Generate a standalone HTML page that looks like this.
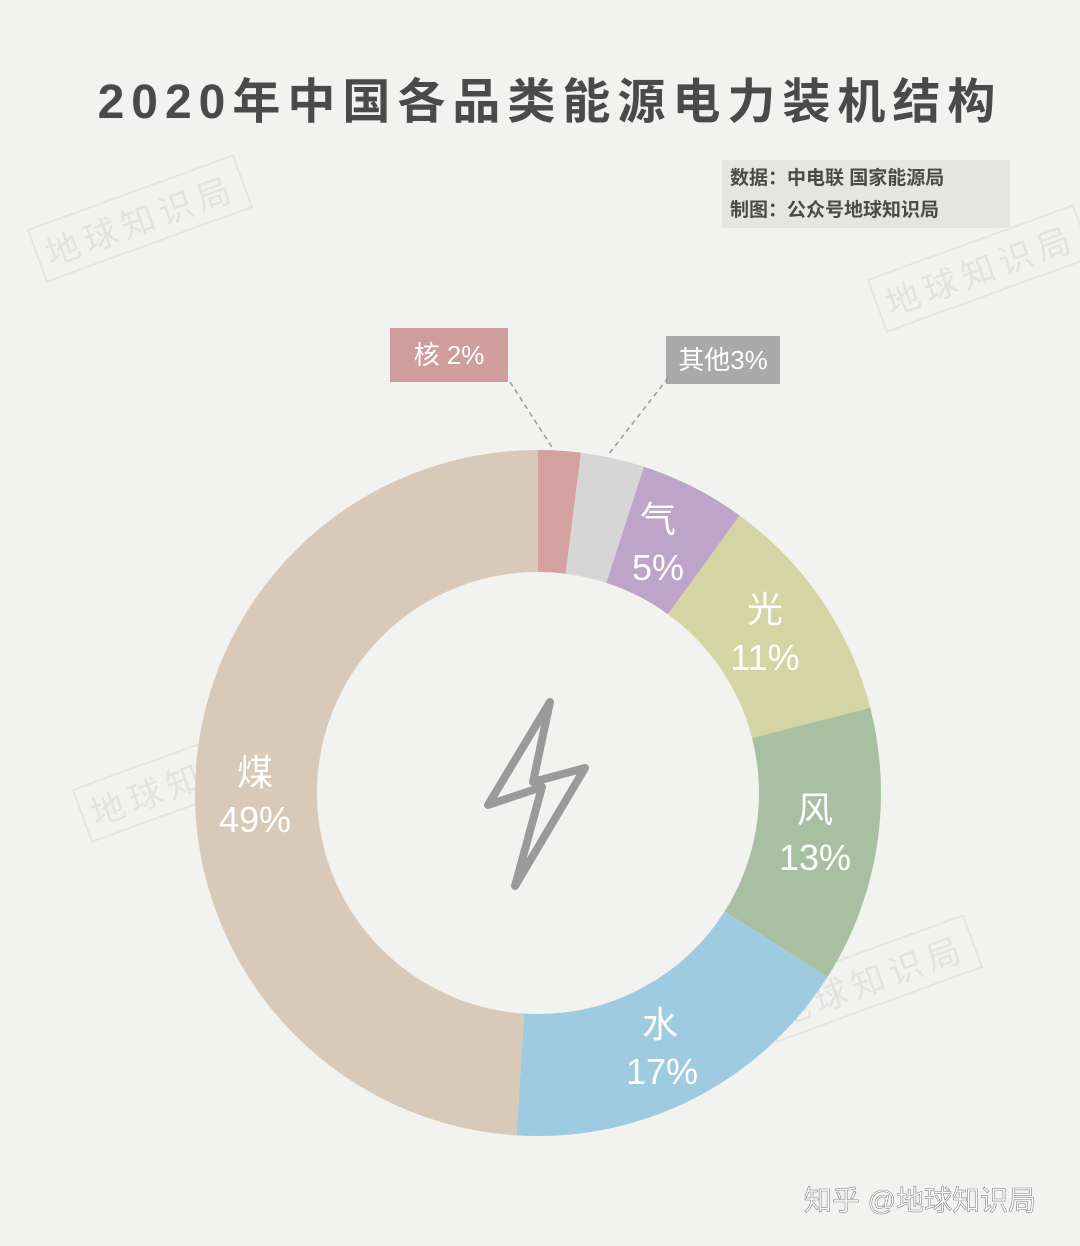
<!DOCTYPE html>
<html><head><meta charset="utf-8">
<style>
html,body{margin:0;padding:0;}
body{width:1080px;height:1246px;background:#f2f2f0;position:relative;overflow:hidden;font-family:"Liberation Sans","Noto Sans CJK SC",sans-serif;}
.t{position:absolute;left:0;width:1100px;top:62px;text-align:center;font-size:48px;font-weight:bold;color:#4a4a4a;letter-spacing:7px;font-family:"Liberation Sans","Noto Sans CJK SC",sans-serif;white-space:nowrap;}
.src{position:absolute;left:722px;top:160px;width:288px;height:68px;background:#e5e5e1;color:#4a4a4a;font-size:19px;font-weight:bold;line-height:32px;padding-left:8px;box-sizing:border-box;padding-top:3px;}
.box{position:absolute;color:#fff;font-size:26px;text-align:center;}
.wm{position:absolute;color:#e2e2e0;border:2px solid #e4e4e2;font-size:34px;padding:2px 8px;transform:rotate(-20deg);letter-spacing:6px;white-space:nowrap;}
</style></head><body>
<div class="wm" style="left:30px;top:190px;">地球知识局</div>
<div class="wm" style="left:870px;top:240px;">地球知识局</div>
<div class="wm" style="left:75px;top:750px;">地球知识局</div>
<div class="wm" style="left:760px;top:950px;">地球知识局</div>
<div class="t">2020年中国各品类能源电力装机结构</div>
<div class="src">数据：中电联 国家能源局<br>制图：公众号地球知识局</div>
<div class="box" style="left:390px;top:328px;width:118px;height:54px;line-height:54px;background:#cf9d9d;">核 2%</div>
<div class="box" style="left:666px;top:336px;width:114px;height:48px;line-height:48px;background:#a9a9a9;">其他3%</div>
<svg width="1080" height="1246" style="position:absolute;left:0;top:0">
<line x1="510" y1="382" x2="557" y2="455" stroke="#999" stroke-width="1.5" stroke-dasharray="5,4"/>
<line x1="668" y1="378" x2="608" y2="455" stroke="#999" stroke-width="1.5" stroke-dasharray="5,4"/>
<g transform="rotate(-90 538 793)" fill="none" stroke-width="122" id="g"></g>
<path d="M550,702 L488,805 L542,787 L515,886 L585,768 L533,782 Z" fill="none" stroke="#9a9a9a" stroke-width="8" stroke-linejoin="round"/>
<g fill="#fff" font-size="36" text-anchor="middle" font-family="Liberation Sans,Noto Sans CJK SC,sans-serif">
<text x="658" y="532">气</text><text x="658" y="580">5%</text>
<text x="765" y="622">光</text><text x="765" y="670">11%</text>
<text x="815" y="822">风</text><text x="815" y="870">13%</text>
<text x="660" y="1037">水</text><text x="662" y="1084">17%</text>
<text x="255" y="785">煤</text><text x="255" y="832">49%</text>
</g>
<text x="920" y="1210" text-anchor="middle" font-size="28" fill="#fff" stroke="#888" stroke-width="0.6" font-family="Liberation Sans,Noto Sans CJK SC,sans-serif">知乎 @地球知识局</text>
</svg>
<script>
var d=[[2,"#d4a0a0"],[3,"#d6d6d6"],[5,"#bea4c8"],[11,"#d4d4a4"],[13,"#a9bfa1"],[17,"#9fcbe0"],[49,"#d8c9b9"]];
var r=282,C=2*Math.PI*r,acc=0,g=document.getElementById("g"),s="";
d.forEach(function(e){var l=e[0]/100*C;s+='<circle cx="538" cy="793" r="'+r+'" stroke="'+e[1]+'" stroke-dasharray="'+l+' '+(C-l)+'" stroke-dashoffset="'+(-acc)+'"/>';acc+=l;});
g.innerHTML=s;
</script>
</body></html>
